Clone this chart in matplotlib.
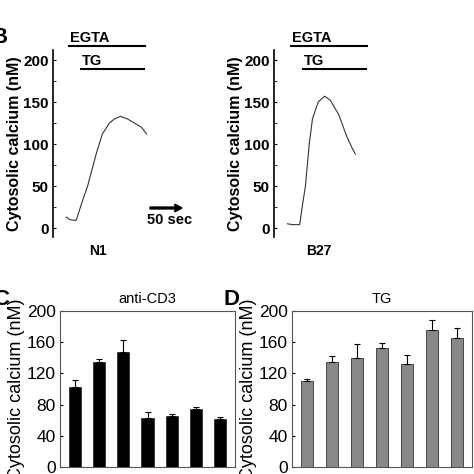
import matplotlib.pyplot as plt
import numpy as np
from matplotlib.lines import Line2D

# traces (time in s, calcium in nM)
n1_t = [0, 5, 15, 24, 33, 47, 56, 67, 75, 84, 95, 106, 117, 125]
n1_ca = [13, 10, 9, 30, 50, 90, 112, 125, 130, 133, 130, 125, 120, 112]
b27_t = [0, 8, 19, 23, 28, 34, 39, 48, 58, 67, 80, 92, 101, 106]
b27_ca = [5, 4, 4, 25, 50, 100, 130, 150, 157, 152, 135, 110, 95, 88]

cd3_vals = [103, 134, 147, 63, 66, 74, 62]
cd3_err = [8, 4, 16, 7, 2, 3, 2]
tg_vals = [110, 135, 140, 152, 132, 176, 166]
tg_err = [3, 7, 18, 7, 12, 12, 12]

W = H = 474.0
fig = plt.figure(figsize=(4.74, 4.74), dpi=100)
plt.rcParams['font.family'] = 'Liberation Sans'

def px_axes(x0, y0, x1, y1):
    return fig.add_axes([x0 / W, 1 - y1 / H, (x1 - x0) / W, (y1 - y0) / H])

def trace_panel(x0, t, ca, name):
    ax = px_axes(x0, 50, x0 + 100, 237)
    ax.plot(t, ca, color='#333333', lw=0.8)
    ax.set_ylim(-10.7, 212)
    ax.set_xlim(-21, 135)
    for s in ['top', 'right', 'bottom']:
        ax.spines[s].set_visible(False)
    ax.spines['left'].set_linewidth(1.2)
    ax.set_xticks([])
    ax.set_yticks([0, 50, 100, 150, 200])
    ax.set_yticks(np.arange(0, 201, 25), minor=True)
    ax.tick_params(axis='y', which='both', direction='in', length=2, labelsize=11, pad=3)
    for lab in ax.get_yticklabels():
        lab.set_fontweight('bold')
    ax.set_ylabel('Cytosolic calcium (nM)', fontsize=11.5, fontweight='bold', labelpad=1)
    ax.text(0.45, -0.04, name, transform=ax.transAxes, ha='center', va='top',
            fontsize=10, fontweight='bold')
    return ax

ax1 = trace_panel(53, n1_t, n1_ca, 'N1')
ax2 = trace_panel(274, b27_t, b27_ca, 'B27')

def hline(x0, x1, y):
    fig.add_artist(Line2D([x0 / W, x1 / W], [1 - y / H, 1 - y / H], color='k', lw=1.5))

for off in [0, 222]:
    hline(69 + off, 145 + off, 46)
    hline(81 + off, 144 + off, 69)
    fig.text((70 + off) / W, 1 - 42 / H, 'EGTA', fontsize=10.5, fontweight='bold', va='baseline')
    fig.text((82 + off) / W, 1 - 65 / H, 'TG', fontsize=10.5, fontweight='bold', va='baseline')

fig.text(0, 1 - 43 / H, 'B', fontsize=16, fontweight='bold', va='baseline', ha='center')
fig.add_artist(plt.matplotlib.patches.FancyArrow(150 / W, 1 - 208 / H, 32 / W, 0,
               width=0.004, head_width=0.016, head_length=0.015, color='k', length_includes_head=True))
fig.text(170 / W, 1 - 224 / H, '50 sec', fontsize=10.5, fontweight='bold', ha='center', va='baseline')

def bar_panel(x0, x1, vals, err, color, title, letter):
    ax = px_axes(x0, 311, x1, 467)
    x = np.arange(len(vals))
    ax.bar(x, vals, width=0.5, color=color, edgecolor='#333333', lw=0.6,
           yerr=[np.zeros(len(err)), err], error_kw=dict(capsize=2.5, elinewidth=0.8, capthick=0.8))
    ax.set_ylim(0, 200)
    ax.set_xlim(-0.6, len(vals) - 0.4)
    ax.set_xticks([])
    ax.set_yticks(np.arange(0, 201, 40))
    ax.tick_params(axis='y', direction='in', length=2, labelsize=12.5, pad=3)
    for s in ax.spines.values():
        s.set_color('#555555')
    ax.set_ylabel('Cytosolic calcium (nM)', fontsize=13, labelpad=1)
    ax.set_title(title, fontsize=10.5, pad=6, fontweight='medium')
    ax.text(-0.38, 1.04, letter, transform=ax.transAxes, fontsize=16, fontweight='bold')

bar_panel(60, 235, cd3_vals, cd3_err, 'black', 'anti-CD3', 'C')
bar_panel(292, 472, tg_vals, tg_err, '#888888', 'TG', 'D')

fig.savefig('out.png', dpi=100)
